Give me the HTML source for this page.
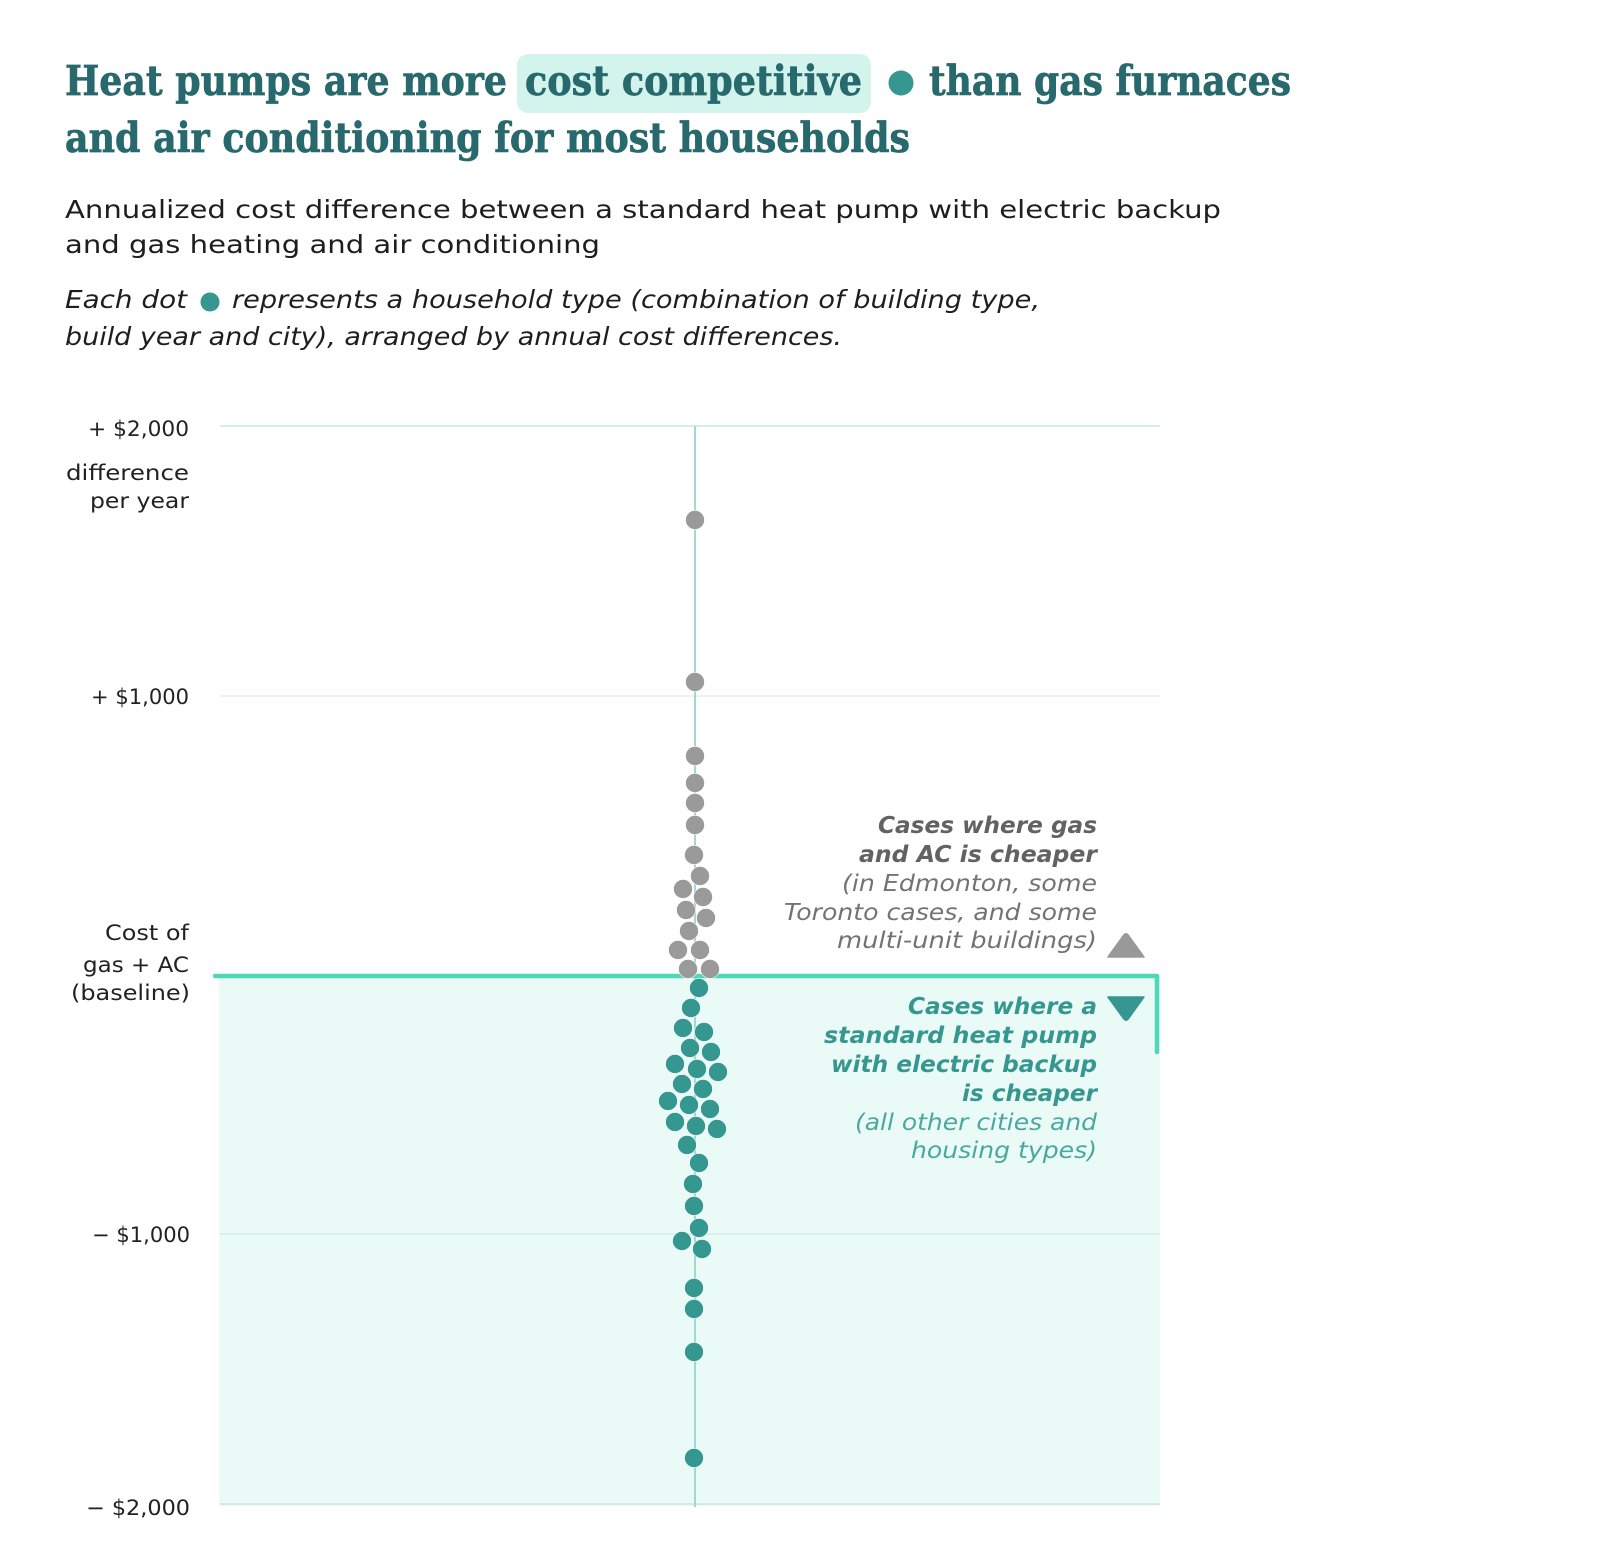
<!DOCTYPE html>
<html>
<head>
<meta charset="utf-8">
<style>
  html, body { margin: 0; padding: 0; background: #ffffff; }
  svg { display: block; }
  .title { font-family: "DejaVu Serif", "Liberation Serif", serif; font-weight: bold; font-size: 41px; fill: #27696c; stroke: #27696c; stroke-width: 0.7px; }
  .sub { font-family: "DejaVu Sans", "Liberation Sans", sans-serif; font-size: 25px; fill: #1e1e1e; }
  .ital { font-family: "DejaVu Sans", "Liberation Sans", sans-serif; font-size: 25px; font-style: italic; fill: #1e1e1e; }
  .ax { font-family: "DejaVu Sans", "Liberation Sans", sans-serif; font-size: 21.5px; fill: #222; }
  .annB { font-family: "DejaVu Sans", "Liberation Sans", sans-serif; font-size: 23px; font-style: italic; font-weight: bold; }
  .annR { font-family: "DejaVu Sans", "Liberation Sans", sans-serif; font-size: 23px; font-style: italic; }
</style>
</head>
<body>
<svg width="1600" height="1558" viewBox="0 0 1600 1558" xmlns="http://www.w3.org/2000/svg">
  <rect x="0" y="0" width="1600" height="1558" fill="#ffffff"/>

  <!-- Title -->
  <rect x="517" y="54" width="354" height="59" rx="11" fill="#d3f4ec"/>
  <text class="title" x="65" y="95" textLength="442" lengthAdjust="spacingAndGlyphs">Heat pumps are more</text>
  <text class="title" x="525" y="95" textLength="337" lengthAdjust="spacingAndGlyphs">cost competitive</text>
  <circle cx="901" cy="83" r="12.5" fill="#35978f"/>
  <text class="title" x="929" y="95" textLength="362" lengthAdjust="spacingAndGlyphs">than gas furnaces</text>
  <text class="title" x="65" y="152" textLength="845" lengthAdjust="spacingAndGlyphs">and air conditioning for most households</text>

  <!-- Subtitle -->
  <text class="sub" x="65" y="218" textLength="1156" lengthAdjust="spacingAndGlyphs">Annualized cost difference between a standard heat pump with electric backup</text>
  <text class="sub" x="65" y="253" textLength="535" lengthAdjust="spacingAndGlyphs">and gas heating and air conditioning</text>

  <!-- Italic note -->
  <text class="ital" x="65" y="308" textLength="122" lengthAdjust="spacingAndGlyphs">Each dot</text>
  <circle cx="210" cy="302" r="9.5" fill="#35978f"/>
  <text class="ital" x="232" y="308" textLength="808" lengthAdjust="spacingAndGlyphs">represents a household type (combination of building type,</text>
  <text class="ital" x="65" y="345" textLength="777" lengthAdjust="spacingAndGlyphs">build year and city), arranged by annual cost differences.</text>

  <!-- Fill region -->
  <rect x="219" y="976" width="941" height="530" fill="#eafaf6"/>

  <!-- Gridlines -->
  <line x1="220" y1="426" x2="1160" y2="426" stroke="#d3eee8" stroke-width="2"/>
  <line x1="220" y1="696" x2="1160" y2="696" stroke="#edf3f3" stroke-width="2"/>
  <line x1="220" y1="1234" x2="1160" y2="1234" stroke="#d8f0eb" stroke-width="2"/>
  <line x1="220" y1="1504" x2="1160" y2="1504" stroke="#d3ebe6" stroke-width="2"/>

  <!-- Vertical center line -->
  <line x1="695" y1="426" x2="695" y2="1507" stroke="#a3d7d6" stroke-width="2"/>

  <!-- Baseline line with bracket -->
  <path d="M215 976 L1157 976 L1157 1052" fill="none" stroke="#4dd9b8" stroke-width="4.5" stroke-linejoin="round" stroke-linecap="round"/>

  <!-- Axis labels -->
  <text class="ax" x="189" y="436" text-anchor="end" textLength="101" lengthAdjust="spacingAndGlyphs">+ $2,000</text>
  <text class="ax" x="189" y="480" text-anchor="end" textLength="123" lengthAdjust="spacingAndGlyphs">difference</text>
  <text class="ax" x="189" y="508" text-anchor="end" textLength="99" lengthAdjust="spacingAndGlyphs">per year</text>
  <text class="ax" x="189" y="704" text-anchor="end" textLength="98" lengthAdjust="spacingAndGlyphs">+ $1,000</text>
  <text class="ax" x="189" y="940" text-anchor="end" textLength="84" lengthAdjust="spacingAndGlyphs">Cost of</text>
  <text class="ax" x="189" y="972" text-anchor="end" textLength="106" lengthAdjust="spacingAndGlyphs">gas + AC</text>
  <text class="ax" x="190" y="1000" text-anchor="end" textLength="119" lengthAdjust="spacingAndGlyphs">(baseline)</text>
  <text class="ax" x="190" y="1242" text-anchor="end" textLength="98" lengthAdjust="spacingAndGlyphs">− $1,000</text>
  <text class="ax" x="190" y="1515" text-anchor="end" textLength="104" lengthAdjust="spacingAndGlyphs">− $2,000</text>

  <!-- Annotations -->
  <g text-anchor="end">
    <text class="annB" x="1097" y="833" fill="#626262" textLength="219" lengthAdjust="spacingAndGlyphs">Cases where gas</text>
    <text class="annB" x="1097" y="862" fill="#626262" textLength="238" lengthAdjust="spacingAndGlyphs">and AC is cheaper</text>
    <text class="annR" x="1097" y="891" fill="#737373" textLength="255" lengthAdjust="spacingAndGlyphs">(in Edmonton, some</text>
    <text class="annR" x="1097" y="920" fill="#737373" textLength="313" lengthAdjust="spacingAndGlyphs">Toronto cases, and some</text>
    <text class="annR" x="1097" y="948" fill="#737373" textLength="260" lengthAdjust="spacingAndGlyphs">multi-unit buildings)</text>

    <text class="annB" x="1097" y="1014" fill="#35978f" textLength="189" lengthAdjust="spacingAndGlyphs">Cases where a</text>
    <text class="annB" x="1097" y="1043" fill="#35978f" textLength="273" lengthAdjust="spacingAndGlyphs">standard heat pump</text>
    <text class="annB" x="1097" y="1072" fill="#35978f" textLength="266" lengthAdjust="spacingAndGlyphs">with electric backup</text>
    <text class="annB" x="1097" y="1101" fill="#35978f" textLength="135" lengthAdjust="spacingAndGlyphs">is cheaper</text>
    <text class="annR" x="1097" y="1130" fill="#4aa89f" textLength="242" lengthAdjust="spacingAndGlyphs">(all other cities and</text>
    <text class="annR" x="1097" y="1158" fill="#4aa89f" textLength="186" lengthAdjust="spacingAndGlyphs">housing types)</text>
  </g>

  <!-- Triangles -->
  <path d="M1108 957 L1123.5 935.5 Q1126 932 1128.5 935.5 L1144 957 Z" fill="#999999" stroke="#999999" stroke-width="1.5" stroke-linejoin="round"/>
  <path d="M1108 997 L1144 997 L1128.5 1018.5 Q1126 1022 1123.5 1018.5 Z" fill="#35978f" stroke="#35978f" stroke-width="1.5" stroke-linejoin="round"/>

  <!-- Gray dots -->
  <g fill="#9a9a9a" stroke="#ffffff" stroke-width="0.6">
    <circle cx="695" cy="520" r="9.5"/>
    <circle cx="695" cy="682" r="9.5"/>
    <circle cx="695" cy="756" r="9.5"/>
    <circle cx="695" cy="783" r="9.5"/>
    <circle cx="695" cy="803" r="9.5"/>
    <circle cx="695" cy="825" r="9.5"/>
    <circle cx="694" cy="855" r="9.5"/>
    <circle cx="700" cy="876" r="9.5"/>
    <circle cx="683" cy="889" r="9.5"/>
    <circle cx="703" cy="897" r="9.5"/>
    <circle cx="686" cy="910" r="9.5"/>
    <circle cx="706" cy="918" r="9.5"/>
    <circle cx="689" cy="931" r="9.5"/>
    <circle cx="678" cy="950" r="9.5"/>
    <circle cx="700" cy="950" r="9.5"/>
    <circle cx="688" cy="969" r="9.5"/>
    <circle cx="710" cy="969" r="9.5"/>
  </g>

  <!-- Teal dots -->
  <g fill="#349890" stroke="#ffffff" stroke-width="0.6">
    <circle cx="699" cy="988" r="9.5"/>
    <circle cx="691" cy="1008" r="9.5"/>
    <circle cx="683" cy="1028" r="9.5"/>
    <circle cx="704" cy="1032" r="9.5"/>
    <circle cx="690" cy="1048" r="9.5"/>
    <circle cx="711" cy="1052" r="9.5"/>
    <circle cx="675" cy="1064" r="9.5"/>
    <circle cx="697" cy="1069" r="9.5"/>
    <circle cx="718" cy="1072" r="9.5"/>
    <circle cx="682" cy="1084" r="9.5"/>
    <circle cx="703" cy="1089" r="9.5"/>
    <circle cx="668" cy="1101" r="9.5"/>
    <circle cx="689" cy="1105" r="9.5"/>
    <circle cx="710" cy="1109" r="9.5"/>
    <circle cx="675" cy="1122" r="9.5"/>
    <circle cx="696" cy="1126" r="9.5"/>
    <circle cx="717" cy="1129" r="9.5"/>
    <circle cx="687" cy="1145" r="9.5"/>
    <circle cx="699" cy="1163" r="9.5"/>
    <circle cx="693" cy="1184" r="9.5"/>
    <circle cx="694" cy="1206" r="9.5"/>
    <circle cx="699" cy="1228" r="9.5"/>
    <circle cx="682" cy="1241" r="9.5"/>
    <circle cx="702" cy="1249" r="9.5"/>
    <circle cx="694" cy="1288" r="9.5"/>
    <circle cx="694" cy="1309" r="9.5"/>
    <circle cx="694" cy="1352" r="9.5"/>
    <circle cx="694" cy="1458" r="9.5"/>
  </g>
</svg>
</body>
</html>
